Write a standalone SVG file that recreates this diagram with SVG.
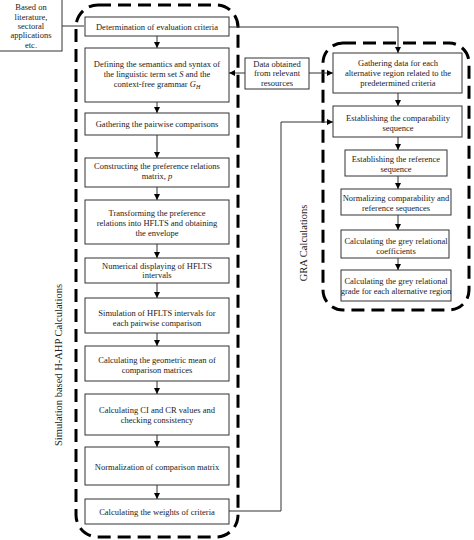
<svg xmlns="http://www.w3.org/2000/svg" width="474" height="540" viewBox="0 0 474 540">
<style>
.box{fill:#fff;stroke:#333;stroke-width:1}
.t{font-family:"Liberation Serif","Times New Roman",serif;font-size:8.5px;text-anchor:middle;fill:#222}
.lbl{font-family:"Liberation Serif","Times New Roman",serif;font-size:10.5px;text-anchor:middle;fill:#222}
.dash{fill:none;stroke:#000;stroke-width:3;stroke-dasharray:13 7}
.c{fill:none;stroke:#333;stroke-width:1}
.a{marker-end:url(#ah)}
</style>
<defs>
<marker id="ah" markerWidth="7" markerHeight="7" refX="6" refY="3" orient="auto" markerUnits="userSpaceOnUse"><path d="M0,0 L6,3 L0,6 z" fill="#000"/></marker>
</defs>
<rect width="474" height="540" fill="#fff"/>
<g id="containers">
<rect class="dash" x="76" y="5" width="162" height="532" rx="22"/>
<rect class="dash" x="323" y="43" width="146" height="267" rx="20"/>
<text class="lbl" transform="translate(62,365) rotate(-90)">Simulation based H-AHP Calculations</text>
<text class="lbl" transform="translate(307,243) rotate(-90)">GRA Calculations</text>
</g>
<g id="connectors">
<path class="c" d="M62,26 H84"/>
<path class="c a" d="M157,36 V48"/>
<path class="c a" d="M157,102 V113"/>
<path class="c a" d="M157,135 V158"/>
<path class="c a" d="M157,187 V200"/>
<path class="c a" d="M157,244 V258"/>
<path class="c a" d="M157,283 V298"/>
<path class="c a" d="M157,333 V346"/>
<path class="c a" d="M157,381 V394"/>
<path class="c a" d="M157,435 V447"/>
<path class="c a" d="M157,485 V499"/>
<path class="c a" d="M229,27 H398 V53"/>
<path class="c a" d="M245,73 H229"/>
<path class="c a" d="M309,73 H333"/>
<path class="c a" d="M229,511 H281 V122 H333"/>
<path class="c a" d="M398,93 V106"/>
<path class="c a" d="M398,137 V150"/>
<path class="c a" d="M398,176 V189"/>
<path class="c a" d="M398,215 V230"/>
<path class="c a" d="M398,258 V270"/>
</g>
<g id="n-based"><rect class="box" x="-1" y="-1" width="63" height="52"/>
<text class="t" x="31" y="9.5">Based on</text><text class="t" x="31" y="19.5">literature,</text><text class="t" x="31" y="28.5">sectoral</text><text class="t" x="31" y="38">applications</text><text class="t" x="31" y="48">etc.</text></g>
<g id="n-determination"><rect class="box" x="85" y="17" width="144" height="19"/>
<text class="t" x="157" y="30">Determination of evaluation criteria</text></g>
<g id="n-defining"><rect class="box" x="85" y="48" width="144" height="54"/>
<text class="t" x="157" y="67">Defining the semantics and syntax of</text>
<text class="t" x="157" y="77">the linguistic term set <tspan font-style="italic">S</tspan> and the</text>
<text class="t" x="157" y="87">context-free grammar <tspan font-style="italic">G</tspan><tspan font-style="italic" font-size="6" dy="2">H</tspan></text></g>
<g id="n-gathering"><rect class="box" x="85" y="113" width="144" height="22"/>
<text class="t" x="157" y="127">Gathering the pairwise comparisons</text></g>
<g id="n-constructing"><rect class="box" x="85" y="158" width="144" height="29"/>
<text class="t" x="157" y="169">Constructing the preference relations</text>
<text class="t" x="157" y="179">matrix, <tspan font-style="italic">p</tspan></text></g>
<g id="n-transforming"><rect class="box" x="85" y="200" width="144" height="44"/>
<text class="t" x="157" y="216">Transforming the preference</text>
<text class="t" x="157" y="226">relations into HFLTS and obtaining</text>
<text class="t" x="157" y="236">the envelope</text></g>
<g id="n-numerical"><rect class="box" x="85" y="258" width="144" height="25"/>
<text class="t" x="157" y="269">Numerical displaying of HFLTS</text>
<text class="t" x="157" y="278">intervals</text></g>
<g id="n-simulation"><rect class="box" x="85" y="298" width="144" height="35"/>
<text class="t" x="157" y="316">Simulation of HFLTS intervals for</text>
<text class="t" x="157" y="326">each pairwise comparison</text></g>
<g id="n-geometric"><rect class="box" x="85" y="346" width="144" height="35"/>
<text class="t" x="157" y="363">Calculating the geometric mean of</text>
<text class="t" x="157" y="373">comparison matrices</text></g>
<g id="n-ci"><rect class="box" x="85" y="394" width="144" height="41"/>
<text class="t" x="157" y="413">Calculating CI and CR values and</text>
<text class="t" x="157" y="423">checking consistency</text></g>
<g id="n-normalization"><rect class="box" x="85" y="447" width="144" height="38"/>
<text class="t" x="157" y="470">Normalization of comparison matrix</text></g>
<g id="n-weights"><rect class="box" x="85" y="499" width="144" height="25"/>
<text class="t" x="157" y="515">Calculating the weights of criteria</text></g>
<g id="n-data"><rect class="box" x="245" y="58" width="64" height="31"/>
<text class="t" x="277" y="67">Data obtained</text><text class="t" x="277" y="76">from relevant</text><text class="t" x="277" y="86">resources</text></g>
<g id="n-gatheringdata"><rect class="box" x="333" y="53" width="129" height="40"/>
<text class="t" x="398" y="66">Gathering data for each</text>
<text class="t" x="398" y="76">alternative region related to the</text>
<text class="t" x="398" y="86">predetermined criteria</text></g>
<g id="n-comparability"><rect class="box" x="333" y="106" width="129" height="31"/>
<text class="t" x="398" y="121">Establishing the comparability</text>
<text class="t" x="398" y="131">sequence</text></g>
<g id="n-reference"><rect class="box" x="345" y="150" width="102" height="26"/>
<text class="t" x="396" y="162">Establishing the  reference</text>
<text class="t" x="396" y="172">sequence</text></g>
<g id="n-normalizing"><rect class="box" x="341" y="189" width="110" height="26"/>
<text class="t" x="396" y="201">Normalizing comparability and</text>
<text class="t" x="396" y="211">reference sequences</text></g>
<g id="n-coefficients"><rect class="box" x="341" y="230" width="108" height="28"/>
<text class="t" x="396" y="244">Calculating the grey relational</text>
<text class="t" x="396" y="254">coefficients</text></g>
<g id="n-grade"><rect class="box" x="341" y="270" width="110" height="31"/>
<text class="t" x="396" y="284">Calculating the grey relational</text>
<text class="t" x="396" y="294">grade for each alternative region</text></g>
</svg>
